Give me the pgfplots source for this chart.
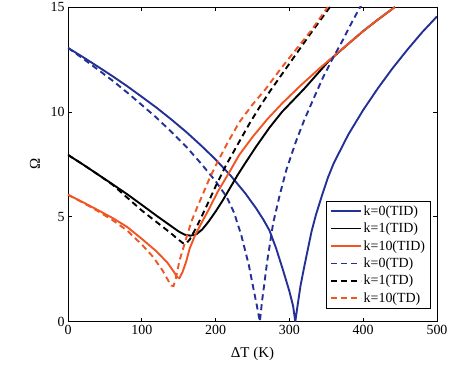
\documentclass[border=0pt]{standalone}
\usepackage{fontspec}
\setmainfont{Liberation Serif}
\usepackage{pgfplots}
\pgfplotsset{compat=1.18}
\definecolor{cblue}{RGB}{35,48,150}
\definecolor{corange}{RGB}{240,85,35}
\tikzset{lw/.style={line width=1.9bp}, dsh/.style={line width=1.9bp, dash pattern=on 6bp off 4bp}}
\begin{document}
\begin{tikzpicture}
\path[use as bounding box] (-68bp,-48.3bp) rectangle (406bp,321.7bp);
\begin{axis}[
  at={(0,0)}, anchor=south west,
  scale only axis, width=369bp, height=314.7bp,
  xmin=0, xmax=500, ymin=0, ymax=15,
  xtick={0,100,...,500}, ytick={0,5,10,15},
  tick align=inside, major tick length=4bp,
  axis line style={line width=0.8bp},
  tick style={black, line width=0.7bp},
  /pgf/number format/assume math mode=true,
  ticklabel style={font=\fontsize{14}{16}\selectfont},
  label style={font=\fontsize{15}{18}\selectfont},
  xlabel={ΔT (K)}, ylabel={Ω},
  xlabel style={at={(axis description cs:0.5,0)}, anchor=base, yshift=-35.3bp},
  ylabel style={at={(axis description cs:-0.0894,0.5)}, anchor=center},
  legend style={at={(axis description cs:0.982,0.0426)}, anchor=south east,
    draw=black, line width=0.7bp, fill=white,
    font=\fontsize{14}{17}\selectfont, inner xsep=3bp, inner ysep=2bp,
    row sep=2.3bp, cells={anchor=west}},
  legend image code/.code={\draw[#1] (0bp,0bp) -- (30bp,0bp);},
]
\addplot[cblue, lw] coordinates {
(0,13.05) (20,12.62) (40,12.17) (60,11.71) (80,11.23) (100,10.72) (120,10.20)
(140,9.64) (160,9.05) (180,8.41) (200,7.73) (220,6.98) (240,6.13) (255,5.4)
(265,4.85) (273,4.35) (282,3.5) (291,2.5) (300,1.45) (305,0.75) (308,0)
(311,0.75) (315,1.7) (320,2.6) (325,3.45) (330,4.3) (336,5.1) (344,6.0)
(352,6.85) (360,7.55) (380,8.93) (400,10.09) (420,11.13) (440,12.09)
(460,12.97) (480,13.80) (500,14.55)};
\addlegendentry{k=0(TID)}
\addplot[black, lw] coordinates {
(0,7.95) (20,7.5) (40,7.03) (60,6.56) (80,6.08) (100,5.57) (120,5.05)
(140,4.55) (150,4.3) (158,4.15) (166,4.1) (174,4.17) (182,4.4) (190,4.75)
(200,5.25) (210,5.8) (220,6.4) (230,7.0) (240,7.55) (255,8.35) (273,9.25)
(290,10.0) (320,11.1) (354,12.45) (380,13.25) (400,13.85) (420,14.4) (443,15.0)};
\addlegendentry{k=1(TID)}
\addplot[corange, lw] coordinates {
(0,6.05) (20,5.7) (40,5.33) (60,4.95) (80,4.52) (100,3.95) (120,3.35)
(135,2.8) (144,2.35) (148,2.12) (151,2.08) (155,2.35) (160,2.85) (165,3.5)
(172,4.1) (180,4.65) (190,5.3) (203,6.2) (219,7.15) (232,7.95) (250,8.8)
(270,9.65) (290,10.4) (315,11.25) (340,12.05) (370,12.95) (400,13.85)
(420,14.4) (443,15.0)};
\addlegendentry{k=10(TID)}
\addplot[cblue, dsh] coordinates {
(0,13.05) (20,12.55) (40,12.03) (60,11.50) (80,10.93) (100,10.33) (120,9.72)
(140,9.05) (160,8.35) (180,7.55) (200,6.70) (215,5.95) (225,5.2) (235,4.1)
(245,2.7) (252,1.45) (256,0.75) (260,0) (263,1.0) (266,1.8) (270,2.9)
(278,4.7) (287,6.05) (296,7.25) (309,8.6) (320,9.6) (333,10.65) (345,11.6)
(358,12.5) (372,13.4) (385,14.3) (396,15.0) (400,15.25)};
\addlegendentry{k=0(TD)}
\addplot[black, dsh] coordinates {
(0,7.95) (20,7.5) (40,7.03) (60,6.54) (80,5.92) (100,5.3) (120,4.75)
(140,4.2) (150,3.9) (156,3.74) (160,3.72) (165,3.92) (174,4.5) (187,5.45)
(200,6.45) (214,7.45) (230,8.45) (246,9.45) (260,10.25) (273,10.95)
(290,11.8) (310,12.8) (330,13.8) (355,15.0)};
\addlegendentry{k=1(TD)}
\addplot[corange, dsh] coordinates {
(0,6.05) (20,5.68) (40,5.28) (60,4.85) (80,4.35) (100,3.68) (115,3.1)
(128,2.45) (136,1.95) (140,1.72) (143,1.7) (146,2.05) (151,2.9) (160,3.95)
(167,4.75) (175,5.45) (183,6.1) (192,6.85) (201,7.5) (215,8.45) (232,9.5)
(250,10.35) (268,11.1) (287,12.0) (305,12.8) (330,13.9) (352,15.0)};
\addlegendentry{k=10(TD)}
\end{axis}
\end{tikzpicture}
\end{document}
